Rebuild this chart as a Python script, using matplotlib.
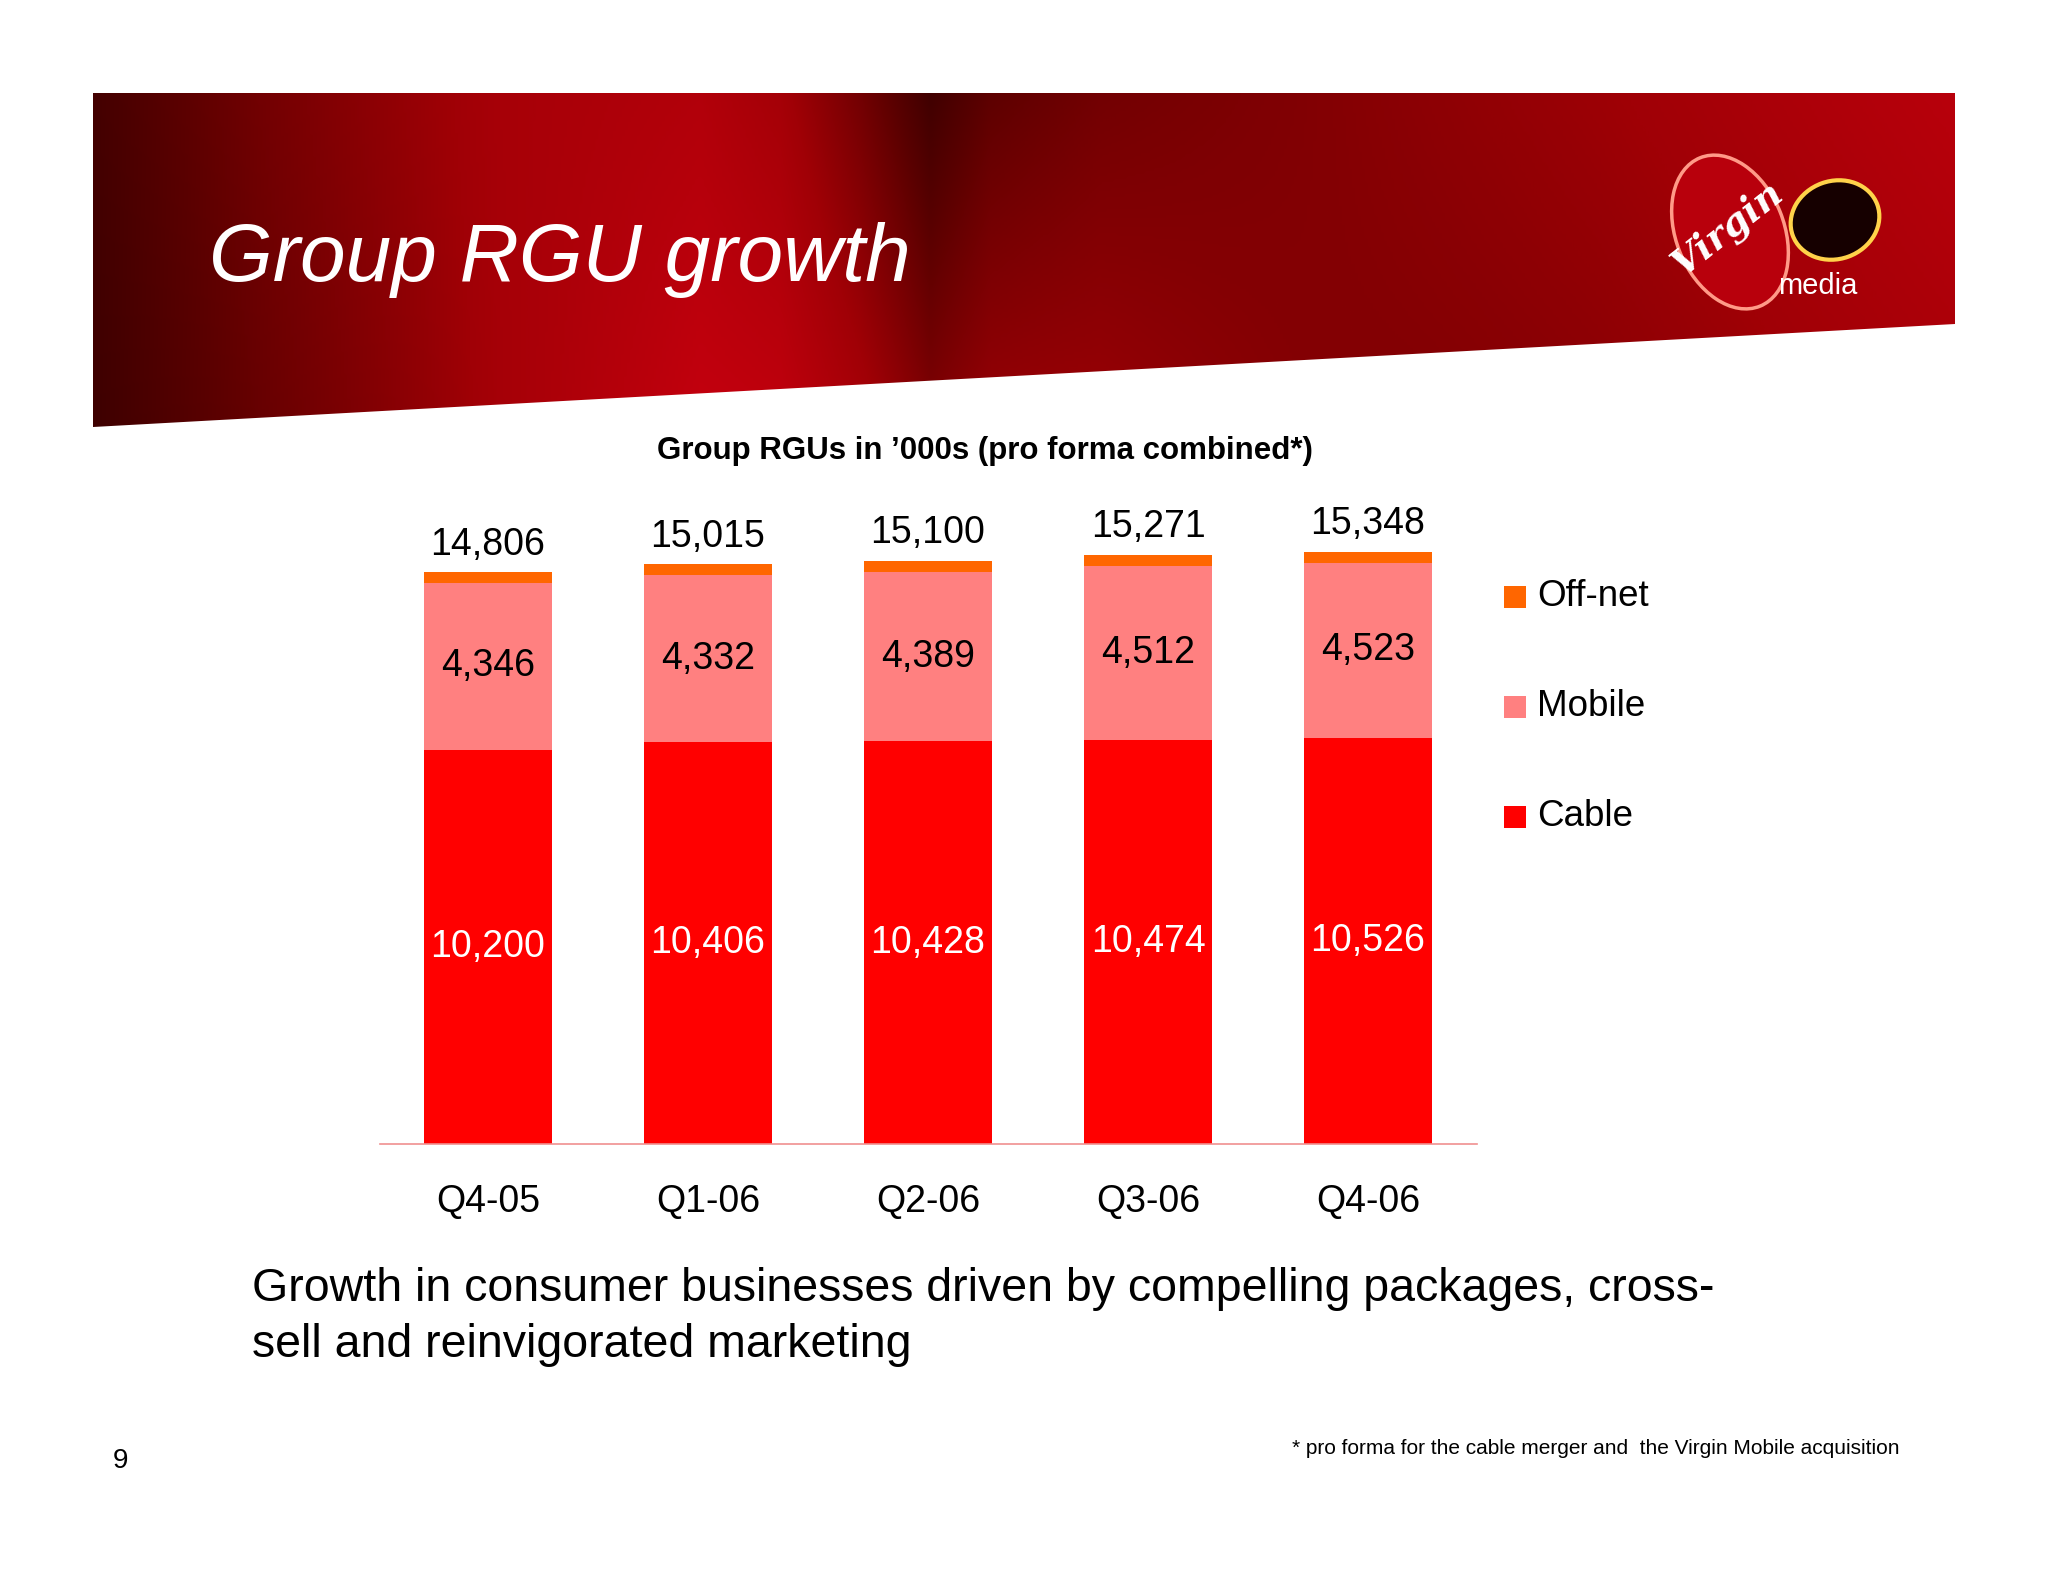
import numpy as np
import matplotlib
matplotlib.use("Agg")
import matplotlib.pyplot as plt
from matplotlib.patches import Polygon, Ellipse, Rectangle
from matplotlib.colors import LinearSegmentedColormap

plt.rcParams['font.family'] = ['Liberation Sans', 'DejaVu Sans']

# ---------------- data ----------------
quarters = ["Q4-05", "Q1-06", "Q2-06", "Q3-06", "Q4-06"]
cable = [10200, 10406, 10428, 10474, 10526]
mobile = [4346, 4332, 4389, 4512, 4523]
totals = [14806, 15015, 15100, 15271, 15348]
offnet = [t - c - m for t, c, m in zip(totals, cable, mobile)]
series_names = ["Off-net", "Mobile", "Cable"]
colors = {"Cable": "#ff0000", "Mobile": "#ff8080", "Off-net": "#ff6600"}

W, H = 2048, 1582
fig = plt.figure(figsize=(W / 100, H / 100), dpi=100)
fig.patch.set_facecolor("white")

# ---------------- background / banner ----------------
bg = fig.add_axes([0, 0, 1, 1])
bg.set_xlim(0, W)
bg.set_ylim(H, 0)
bg.axis("off")

bx0, bx1, by0 = 93, 1955, 93
byl, byr = 427, 324
nx, ny = 600, 120
xs = np.linspace(bx0, bx1, nx)
ys = np.linspace(by0, byl, ny)
px = [93, 260, 500, 700, 780, 860, 930, 990, 1100, 1300, 1600, 1955]
pv = [0.22, 0.45, 0.72, 0.80, 0.70, 0.45, 0.20, 0.35, 0.45, 0.52, 0.65, 0.85]
prof = np.interp(xs, px, pv)
XX, YY = np.meshgrid(xs, ys)
vert = (YY - by0) / (byl - by0)
inten = prof[None, :] * (1 - 0.15 * vert) + 0.35 * vert * np.exp(-((XX - 900) / 350) ** 2)
inten = np.clip(inten, 0, 1)
cmap = LinearSegmentedColormap.from_list("vm", ["#1a0000", "#5a0000", "#a00006", "#cc0010"])
img = bg.imshow(inten, cmap=cmap, vmin=0, vmax=1, extent=(bx0, bx1, byl, by0),
                aspect="auto", interpolation="bilinear", zorder=1)
clip = Polygon([(bx0, by0), (bx1, by0), (bx1, byr), (bx0, byl)], closed=True,
               transform=bg.transData, facecolor="none", edgecolor="none")
bg.add_patch(clip)
img.set_clip_path(clip)

bg.text(209, 281, "Group RGU growth", color="white", fontsize=59, style="italic",
        ha="left", va="baseline", zorder=5)

# ---------------- logo ----------------
right_loop = Ellipse((1835, 220), 90, 78, angle=-20, facecolor="#160000",
                     edgecolor="#ffd24a", lw=3, zorder=3)
bg.add_patch(right_loop)
left_loop = Ellipse((1730, 232), 108, 160, angle=-22, facecolor="#b8000c",
                    edgecolor="#ff9a88", lw=2.5, zorder=4)
bg.add_patch(left_loop)
bg.text(1728, 228, "Virgin", color="white", fontsize=27, style="italic",
        fontweight="bold", family=["DejaVu Serif"], rotation=38, ha="center",
        va="center", zorder=6)
bg.text(1818, 286, "media", color="white", fontsize=21, ha="center", va="center",
        zorder=6)

# ---------------- chart ----------------
baseline = 1144
px_per_unit = 0.0386
ymax = 17000
top_px = baseline - ymax * px_per_unit
ax_left, ax_right = 380, 1477
ax = fig.add_axes([ax_left / W, (H - baseline) / H, (ax_right - ax_left) / W,
                   (baseline - top_px) / H])
ax.patch.set_alpha(0)
xc0, step = 488, 220
ax.set_xlim((ax_left - xc0) / step, (ax_right - xc0) / step)
ax.set_ylim(0, ymax)
x = np.arange(len(quarters))
bw = 0.58
ax.bar(x, cable, bw, color=colors["Cable"], zorder=2)
ax.bar(x, mobile, bw, bottom=cable, color=colors["Mobile"], zorder=2)
bot2 = [c + m for c, m in zip(cable, mobile)]
ax.bar(x, offnet, bw, bottom=bot2, color=colors["Off-net"], zorder=2)

for i in range(len(quarters)):
    ax.text(x[i], cable[i] / 2, f"{cable[i]:,}", color="white", fontsize=27,
            ha="center", va="center", zorder=3)
    ax.text(x[i], cable[i] + mobile[i] / 2, f"{mobile[i]:,}", color="black",
            fontsize=27, ha="center", va="center", zorder=3)
    ax.annotate(f"{totals[i]:,}", (x[i], totals[i]), xytext=(0, 20),
                textcoords="offset points", ha="center", va="center",
                fontsize=27, color="black")

for s in ["top", "right", "left"]:
    ax.spines[s].set_visible(False)
ax.spines["bottom"].set_color("#f09090")
ax.spines["bottom"].set_linewidth(1.2)
ax.set_yticks([])
ax.set_xticks(x)
ax.set_xticklabels(quarters, fontsize=27)
ax.tick_params(axis="x", length=0, pad=29)

# chart title
bg.text(985, 451, "Group RGUs in \u2019000s (pro forma combined*)", fontsize=22.5,
        fontweight="bold", ha="center", va="center", zorder=5)

# legend (manual)
leg_y = [597, 707, 817]
for name, yy in zip(series_names, leg_y):
    bg.add_patch(Rectangle((1504, yy - 11), 22, 22, facecolor=colors[name],
                           edgecolor="none", zorder=5))
    bg.text(1537, yy, name, fontsize=26.5, ha="left", va="center", zorder=5)

# bottom text
bg.text(252, 1289, "Growth in consumer businesses driven by compelling packages, cross-",
        fontsize=33.5, ha="left", va="center", zorder=5)
bg.text(252, 1345, "sell and reinvigorated marketing", fontsize=33.5, ha="left",
        va="center", zorder=5)

bg.text(1899, 1448, "* pro forma for the cable merger and  the Virgin Mobile acquisition",
        fontsize=15, ha="right", va="center", zorder=5)
bg.text(120, 1461, "9", fontsize=20, ha="center", va="center", zorder=5)

fig.savefig("out.png", dpi=100, facecolor="white")
